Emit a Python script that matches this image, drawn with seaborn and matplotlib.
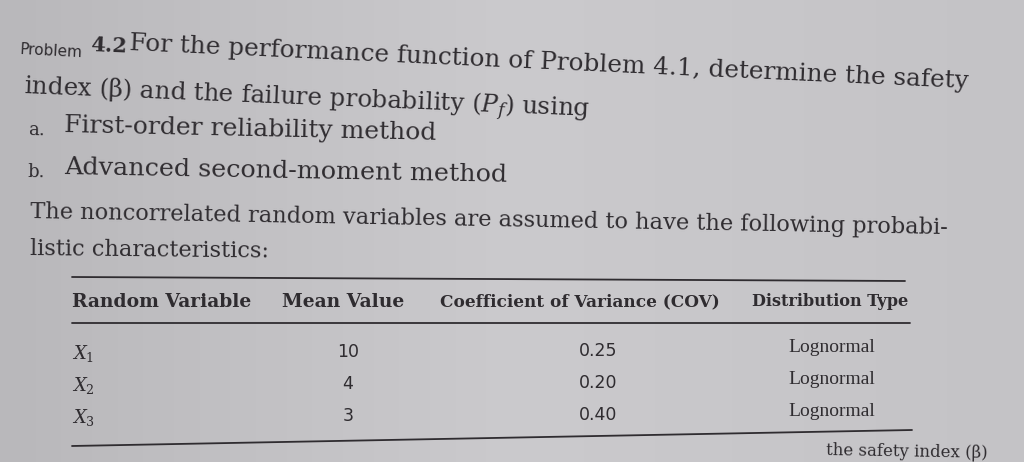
import matplotlib
matplotlib.use("Agg")
import matplotlib.pyplot as plt
import seaborn as sns
import numpy as np

sns.set_theme(style="white")
plt.rcParams['font.family'] = ['DejaVu Serif']
plt.rcParams['mathtext.fontset'] = 'dejavuserif'

header = ["Random Variable", "Mean Value", "Coefficient of Variance (COV)", "Distribution Type"]
variables = ["$X_1$", "$X_2$", "$X_3$"]
means = ["10", "4", "3"]
covs = ["0.25", "0.20", "0.40"]
dists = ["Lognormal", "Lognormal", "Lognormal"]

fig = plt.figure(figsize=(10.24, 4.62), dpi=100)
ax = fig.add_axes([0, 0, 1, 1])
ax.set_xlim(0, 1024); ax.set_ylim(462, 0); ax.axis("off")
grad = np.linspace(0, 1, 200)[None, :] * np.ones((50, 1))
ax.imshow(grad, extent=[0, 1024, 462, 0], cmap=matplotlib.colors.LinearSegmentedColormap.from_list(
    "bg", ["#b9b8bb", "#cbcacd", "#c4c3c6"]), aspect="auto", zorder=0)

tc = "#2f2c30"
def T(x, y, s, size=17, rot=0, ha="left", weight="normal", family=None):
    kw = dict(fontsize=size, rotation=rot, ha=ha, va="center", color=tc, weight=weight,
              rotation_mode="anchor", zorder=2)
    if family: kw["family"] = family
    ax.text(x, y, s, **kw)

T(20, 50, "Problem", size=11, rot=-3, family=["DejaVu Sans"])
T(90, 45, "4.2", size=15, rot=-2.5, weight="bold")
T(130, 44, "For the performance function of Problem 4.1, determine the safety", size=17.8, rot=-2.6)
T(24, 88, "index (β) and the failure probability ($P_f$) using", size=17.6, rot=-2.3)
T(28, 130, "a.", size=13, rot=-1.2)
T(64, 126, "First-order reliability method", size=18, rot=-1.2)
T(28, 172, "b.", size=13, rot=-1)
T(64, 168, "Advanced second-moment method", size=18.3, rot=-1)
T(30, 212, "The noncorrelated random variables are assumed to have the following probabi-", size=16.2, rot=-1)
T(30, 249, "listic characteristics:", size=16.2, rot=-0.6)

# table
ax.plot([72, 905], [277, 281], color=tc, lw=1.3, zorder=2)
xs = [72, 282, 440, 752]
sizes = [13.5, 13.5, 12.2, 11.6]
for x, h, w in zip(xs, header, sizes):
    T(x, 302, h, size=w, weight="bold")
ax.plot([72, 910], [323, 323], color=tc, lw=1.3, zorder=2)
ys = [352, 384, 416]
for i, y in enumerate(ys):
    T(72, y + 2, variables[i], size=13)
    T(348, y, means[i], size=12.5, ha="center", family=["DejaVu Sans"])
    T(598, y - 1, covs[i], size=12.5, ha="center", family=["DejaVu Sans"])
    T(832, y - 4, dists[i], size=14, ha="center", family=["Liberation Serif"])
ax.plot([72, 912], [446, 430], color=tc, lw=1.3, zorder=2)
T(826, 451, "the safety index (β)", size=12, rot=-1)

fig.savefig("out.png", dpi=100)
